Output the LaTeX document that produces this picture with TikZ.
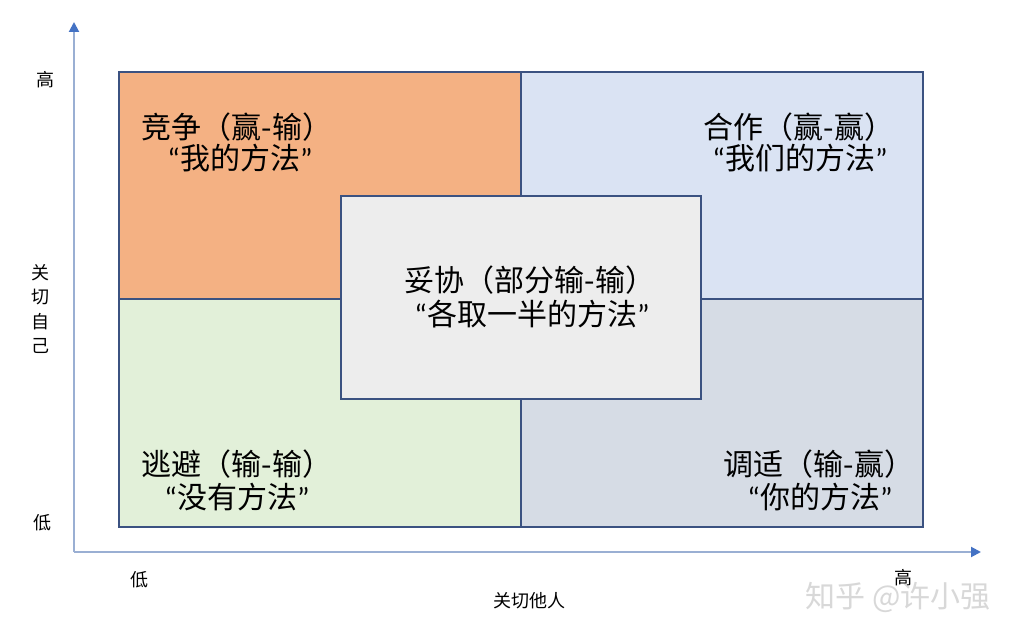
\documentclass[tikz,border=0pt]{standalone}
\usepackage{fontspec}
\newfontfamily\cjk{Noto Sans CJK SC}
\newfontfamily\latq{Carlito}
\newcommand\myoq{{\latq “}}
\newcommand\mycq{{\latq ”}}
\usetikzlibrary{arrows.meta}
\definecolor{bordc}{HTML}{3B5281}
\definecolor{axisc}{HTML}{9AAFD3}
\definecolor{tipc}{HTML}{4472C4}
\definecolor{qorange}{HTML}{F4B183}
\definecolor{qblue}{HTML}{DAE3F3}
\definecolor{qgreen}{HTML}{E2F0D9}
\definecolor{qgray}{HTML}{D6DCE5}
\definecolor{qcenter}{HTML}{EDEDED}
\definecolor{wmark}{HTML}{D8D8D8}
\tikzset{
  quad/.style={draw=bordc, line width=2pt, anchor=north west, inner sep=0pt},
  axisline/.style={draw=axisc, line width=2pt, -{Triangle[length=10pt,width=10pt,fill=tipc,color=tipc]}},
  bigtxt/.style={font=\cjk\fontsize{30}{34}\selectfont, inner sep=0pt, text=black},
  smalltxt/.style={font=\cjk\fontsize{18}{22}\selectfont, inner sep=0pt, text=black},
  wmtxt/.style={font=\cjk\fontsize{30}{34}\selectfont, inner sep=0pt, text=wmark}
}
\begin{document}
\begin{tikzpicture}[x=1pt,y=-1pt]
\useasboundingbox (0,0) rectangle (1018,636);
\fill[white] (0,0) rectangle (1018,636);
% axes
\coordinate (o) at (74,552);
\coordinate (ytop) at (74,22);
\coordinate (xend) at (981,552);
\draw[axisline] (o) -- (ytop);
\draw[axisline] (o) -- (xend);
% quadrants
\node[quad, fill=qorange, minimum width=402pt, minimum height=227pt] (tl) at (118,71) {};
\node[quad, fill=qblue, minimum width=402pt, minimum height=227pt] (tr) at (520,71) {};
\node[quad, fill=qgreen, minimum width=402pt, minimum height=228pt] (bl) at (118,298) {};
\node[quad, fill=qgray, minimum width=402pt, minimum height=228pt] (br) at (520,298) {};
\node[quad, fill=qcenter, minimum width=360pt, minimum height=203pt] (c) at (340,195) {};
% quadrant texts
\node[bigtxt] (tl1) at (237,127) {竞争（赢-输）};
\node[bigtxt] (tl2) at (240,158) {\myoq 我的方法\mycq};
\node[bigtxt] (tr1) at (799,127) {合作（赢-赢）};
\node[bigtxt] (tr2) at (800,158) {\myoq 我们的方法\mycq};
\node[bigtxt] (c1) at (530,280) {妥协（部分输-输）};
\node[bigtxt] (c2) at (532,314) {\myoq 各取一半的方法\mycq};
\node[bigtxt] (bl1) at (237,464) {逃避（输-输）};
\node[bigtxt] (bl2) at (237,497) {\myoq 没有方法\mycq};
\node[bigtxt] (br1) at (819,464) {调适（输-赢）};
\node[bigtxt] (br2) at (820,497) {\myoq 你的方法\mycq};
% axis labels
\node[smalltxt] (yhi) at (45,80) {高};
\node[smalltxt] (ylo) at (42,523) {低};
\node[smalltxt, align=center, font=\cjk\fontsize{18}{24.5}\selectfont] (ylab) at (40,309) {关\\切\\自\\己};
\node[smalltxt] (xlo) at (139,580) {低};
\node[wmtxt] (wm) at (898,597) {知乎 @许小强};
\node[smalltxt] (xhi) at (903,578) {高};
\node[smalltxt] (xlab) at (529,601) {关切他人};
\end{tikzpicture}
\end{document}
